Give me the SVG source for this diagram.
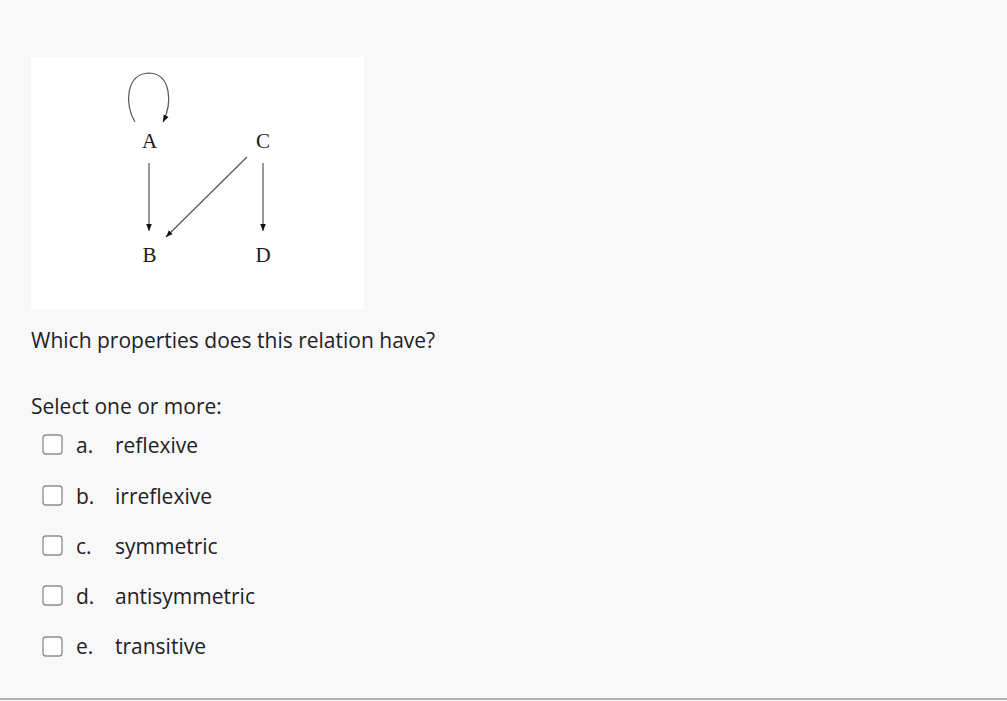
<svg xmlns="http://www.w3.org/2000/svg" width="1007" height="701" viewBox="0 0 1007 701">
<defs>
<marker id="ah" viewBox="0 0 10 10" refX="10" refY="5" markerWidth="7" markerHeight="7" orient="auto" markerUnits="userSpaceOnUse">
<path d="M0,1 L10,5 L0,9 Z" fill="#111"/>
</marker>
<style>
.lbl{font-family:"Liberation Serif","DejaVu Serif",serif;font-size:21px;fill:#1a1a1a;text-anchor:middle}
.edge{fill:none;stroke:#555;stroke-width:1.2}
.ui{font-family:"Open Sans","Noto Sans","Liberation Sans",sans-serif;font-size:21px;fill:#1d2125}
.cb{fill:#fff;stroke:#8a8d90;stroke-width:1.3}
</style>
</defs>
<rect x="0" y="0" width="1007" height="701" fill="#f8f8f8"/>
<rect x="31" y="57" width="333" height="253" fill="#ffffff"/>
<g id="connectors">
<path class="edge" d="M135,122 C124,104 126,74 149,73 C172,74 172,104 163,122" marker-end="url(#ah)"/>
<line class="edge" x1="149" y1="163" x2="149" y2="231" marker-end="url(#ah)"/>
<line class="edge" x1="263" y1="163" x2="263" y2="231" marker-end="url(#ah)"/>
<line class="edge" x1="247" y1="157" x2="166" y2="237" marker-end="url(#ah)"/>
</g>
<g id="node-A"><text class="lbl" x="149.5" y="147.5">A</text></g>
<g id="node-B"><text class="lbl" x="149.5" y="261.5">B</text></g>
<g id="node-C"><text class="lbl" x="263" y="147.5">C</text></g>
<g id="node-D"><text class="lbl" x="263" y="261.5">D</text></g>
<text class="ui" x="31" y="348">Which properties does this relation have?</text>
<text class="ui" x="31" y="414">Select one or more:</text>
<g id="opt-a"><rect class="cb" x="43" y="435" width="19" height="19" rx="3"/><text class="ui" x="76" y="453">a.</text><text class="ui" x="115" y="453">reflexive</text></g>
<g id="opt-b"><rect class="cb" x="43" y="486" width="19" height="19" rx="3"/><text class="ui" x="76" y="504">b.</text><text class="ui" x="115" y="504">irreflexive</text></g>
<g id="opt-c"><rect class="cb" x="43" y="536" width="19" height="19" rx="3"/><text class="ui" x="76" y="554">c.</text><text class="ui" x="115" y="554">symmetric</text></g>
<g id="opt-d"><rect class="cb" x="43" y="586" width="19" height="19" rx="3"/><text class="ui" x="76" y="604">d.</text><text class="ui" x="115" y="604">antisymmetric</text></g>
<g id="opt-e"><rect class="cb" x="43" y="637" width="19" height="19" rx="3"/><text class="ui" x="76" y="654">e.</text><text class="ui" x="115" y="654">transitive</text></g>
<rect x="0" y="698" width="1007" height="2" fill="#b3b3b3"/>
</svg>
